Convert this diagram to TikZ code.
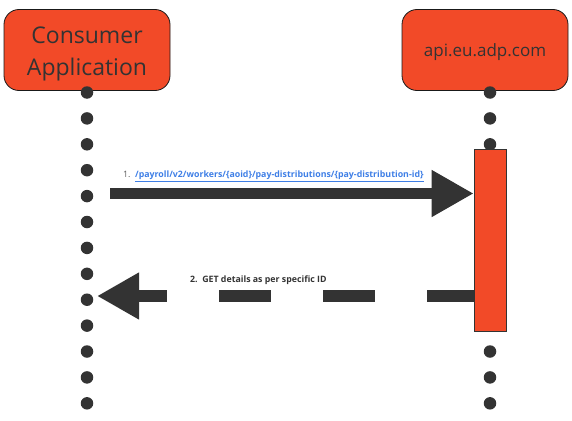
\documentclass[tikz,border=0pt]{standalone}
\usepackage{fontspec}
\setmainfont{Open Sans}
\usepackage{tikz}
\usetikzlibrary{arrows.meta,positioning}

\definecolor{boxred}{HTML}{F24A28}
\definecolor{darkgrey}{HTML}{333333}
\definecolor{linkblue}{HTML}{3F7FE6}

\begin{document}
\begin{tikzpicture}
			[
				x=1pt, y=-1pt,
				party/.style={draw=black!90, fill=boxred, line width=0.8pt, rounded corners=15pt,
					minimum width=166pt, minimum height=81pt},
				partytext/.style={align=center, text=darkgrey, inner sep=0pt},
				lifedot/.style={circle, fill=darkgrey, inner sep=0pt, minimum size=12.5pt},
				activation/.style={draw=darkgrey, fill=boxred, line width=0.6pt, inner sep=0pt,
					minimum width=32pt, minimum height=182pt},
				msgtext/.style={draw=none, fill=none, inner sep=0pt, anchor=west,
					font=\fontsize{8.8}{10}\selectfont},
				msg/.style={-{Triangle[length=42pt,width=44pt]}, line width=11.5pt, darkgrey}
			]
			\useasboundingbox (0,0) rectangle (572,420);

			% participants
			\node[party] (consumer) at ( 87.0, 50.0 ) {};
			\node[party] (api) at ( 485.0, 50.0 ) {};
			\node[partytext, font=\fontsize{23}{32}\selectfont] (consumerlbl) at ([yshift=-4pt]consumer.center) {Consumer\\Application};
			\node[partytext, font=\fontsize{17}{20}\selectfont] (apilbl) at ([yshift=-2pt]api.center) {api.eu.adp.com};

			% lifelines
			\foreach \i in {0,...,12}
			{
				\node[lifedot] (c\i) at (  87.0, 92.5+25.9*\i ) {};
				\node[lifedot] (a\i) at ( 490.0, 92.5+25.9*\i ) {};
			}

			% activation
			\node[activation] (act) at ( 490.0, 240.0 ) {};

			% message labels
			\node[msgtext] (t1) at ( 123.0, 176.0 ) {\textcolor{darkgrey!80}{1.}\ \ \textcolor{linkblue}{\bfseries\underline{/payroll/v2/workers/\{aoid\}/pay-distributions/\{pay-distribution-id\}}}};
			\node[msgtext, text=darkgrey] (t2) at ( 190.0, 280.0 ) {\bfseries 2.\ \ GET details as per specific ID};

			% message paths
			\coordinate (m1) at ( 110.0, 193.5 );
			\coordinate (m2) at (  97.0, 296.0 );
			\draw[msg] (m1) -- (m1 -| act.west);
			\draw[msg, dash pattern=on 52pt off 52pt, dash phase=5pt] (m2 -| act.west) -- (m2);

		\end{tikzpicture}
\end{document}
